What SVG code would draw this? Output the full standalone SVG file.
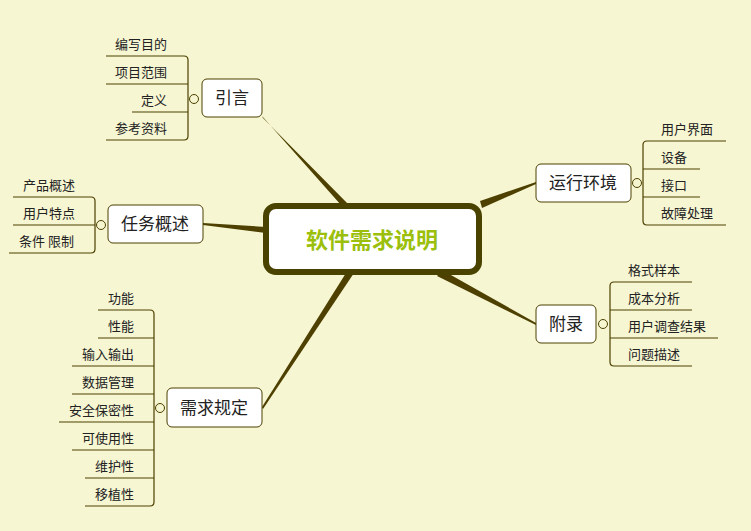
<svg xmlns="http://www.w3.org/2000/svg" width="751" height="531" viewBox="0 0 751 531">
<style>
.n{fill:#fff;stroke:#4d4000;stroke-width:1}
.t{font-family:"Noto Sans CJK SC",sans-serif;font-size:17px;fill:#222;text-anchor:middle}
.l{font-family:"Noto Sans CJK SC",sans-serif;font-size:13px;fill:#222}
.e{text-anchor:end}
.b{fill:none;stroke:#4d4000;stroke-width:1.2}
.c{fill:#f5f5d0;stroke:#4d4000;stroke-width:1}
.k{fill:#4d4000}
</style>
<rect width="751" height="531" fill="#f6f6d2"/>
<g id="connectors">
<polygon class="k" points="262,116 263,118 349,205 341,205"/>
<polygon class="k" points="203,223 203,225 266,233 266,227"/>
<polygon class="k" points="262,407 263,409 354,273 346,273"/>
<polygon class="k" points="536,182 536,184 482,208 480,201"/>
<polygon class="k" points="536,323 536,325 437,276 442,270"/>
</g>
<g id="center">
<rect x="266" y="206" width="213" height="66" rx="10" fill="#fff" stroke="#4a4300" stroke-width="6"/>
<text x="372" y="248" font-family="Noto Sans CJK SC,sans-serif" font-size="22" font-weight="bold" fill="#9bbf0c" text-anchor="middle">软件需求说明</text>
</g>
<g id="yinyan">
<rect class="n" x="202" y="79" width="60" height="38" rx="5"/>
<text class="t" x="232" y="104">引言</text>
<path class="b" d="M106,56H184q4,0 4,4V136q0,4 -4,4H106M106,84H188M132,112H188"/>
<circle class="c" cx="194" cy="99" r="4.5"/>
<text class="l e" x="167" y="49">编写目的</text>
<text class="l e" x="167" y="77">项目范围</text>
<text class="l e" x="167" y="105">定义</text>
<text class="l e" x="167" y="133">参考资料</text>
</g>
<g id="renwu">
<rect class="n" x="108" y="205" width="95" height="38" rx="5"/>
<text class="t" x="155" y="230">任务概述</text>
<path class="b" d="M13,197H91q4,0 4,4V249q0,4 -4,4H9M13,225H95"/>
<circle class="c" cx="101" cy="225" r="4.5"/>
<text class="l e" x="75" y="190">产品概述</text>
<text class="l e" x="75" y="218">用户特点</text>
<text class="l e" x="74" y="246">条件 限制</text>
</g>
<g id="xuqiu">
<rect class="n" x="167" y="388" width="95" height="39" rx="5"/>
<text class="t" x="214" y="414">需求规定</text>
<path class="b" d="M98,310H150q4,0 4,4V502q0,4 -4,4H85M98,338H154M72,366H154M72,394H154M59,422H154M72,450H154M85,478H154"/>
<circle class="c" cx="160" cy="408" r="4.5"/>
<text class="l e" x="134" y="303">功能</text>
<text class="l e" x="134" y="331">性能</text>
<text class="l e" x="134" y="359">输入输出</text>
<text class="l e" x="134" y="387">数据管理</text>
<text class="l e" x="134" y="415">安全保密性</text>
<text class="l e" x="134" y="443">可使用性</text>
<text class="l e" x="134" y="471">维护性</text>
<text class="l e" x="134" y="499">移植性</text>
</g>
<g id="yunxing">
<rect class="n" x="536" y="164" width="95" height="38" rx="5"/>
<text class="t" x="583" y="189">运行环境</text>
<path class="b" d="M726,141H647q-4,0 -4,4V221q0,4 4,4H726M643,169H700M643,197H700"/>
<circle class="c" cx="637" cy="183" r="4.5"/>
<text class="l" x="661" y="134">用户界面</text>
<text class="l" x="661" y="162">设备</text>
<text class="l" x="661" y="190">接口</text>
<text class="l" x="661" y="218">故障处理</text>
</g>
<g id="fulu">
<rect class="n" x="536" y="305" width="60" height="38" rx="5"/>
<text class="t" x="566" y="330">附录</text>
<path class="b" d="M692,282H614q-4,0 -4,4V362q0,4 4,4H692M610,310H692M610,338H718"/>
<circle class="c" cx="603" cy="324" r="4.5"/>
<text class="l" x="628" y="275">格式样本</text>
<text class="l" x="628" y="303">成本分析</text>
<text class="l" x="628" y="331">用户调查结果</text>
<text class="l" x="628" y="359">问题描述</text>
</g>
</svg>
